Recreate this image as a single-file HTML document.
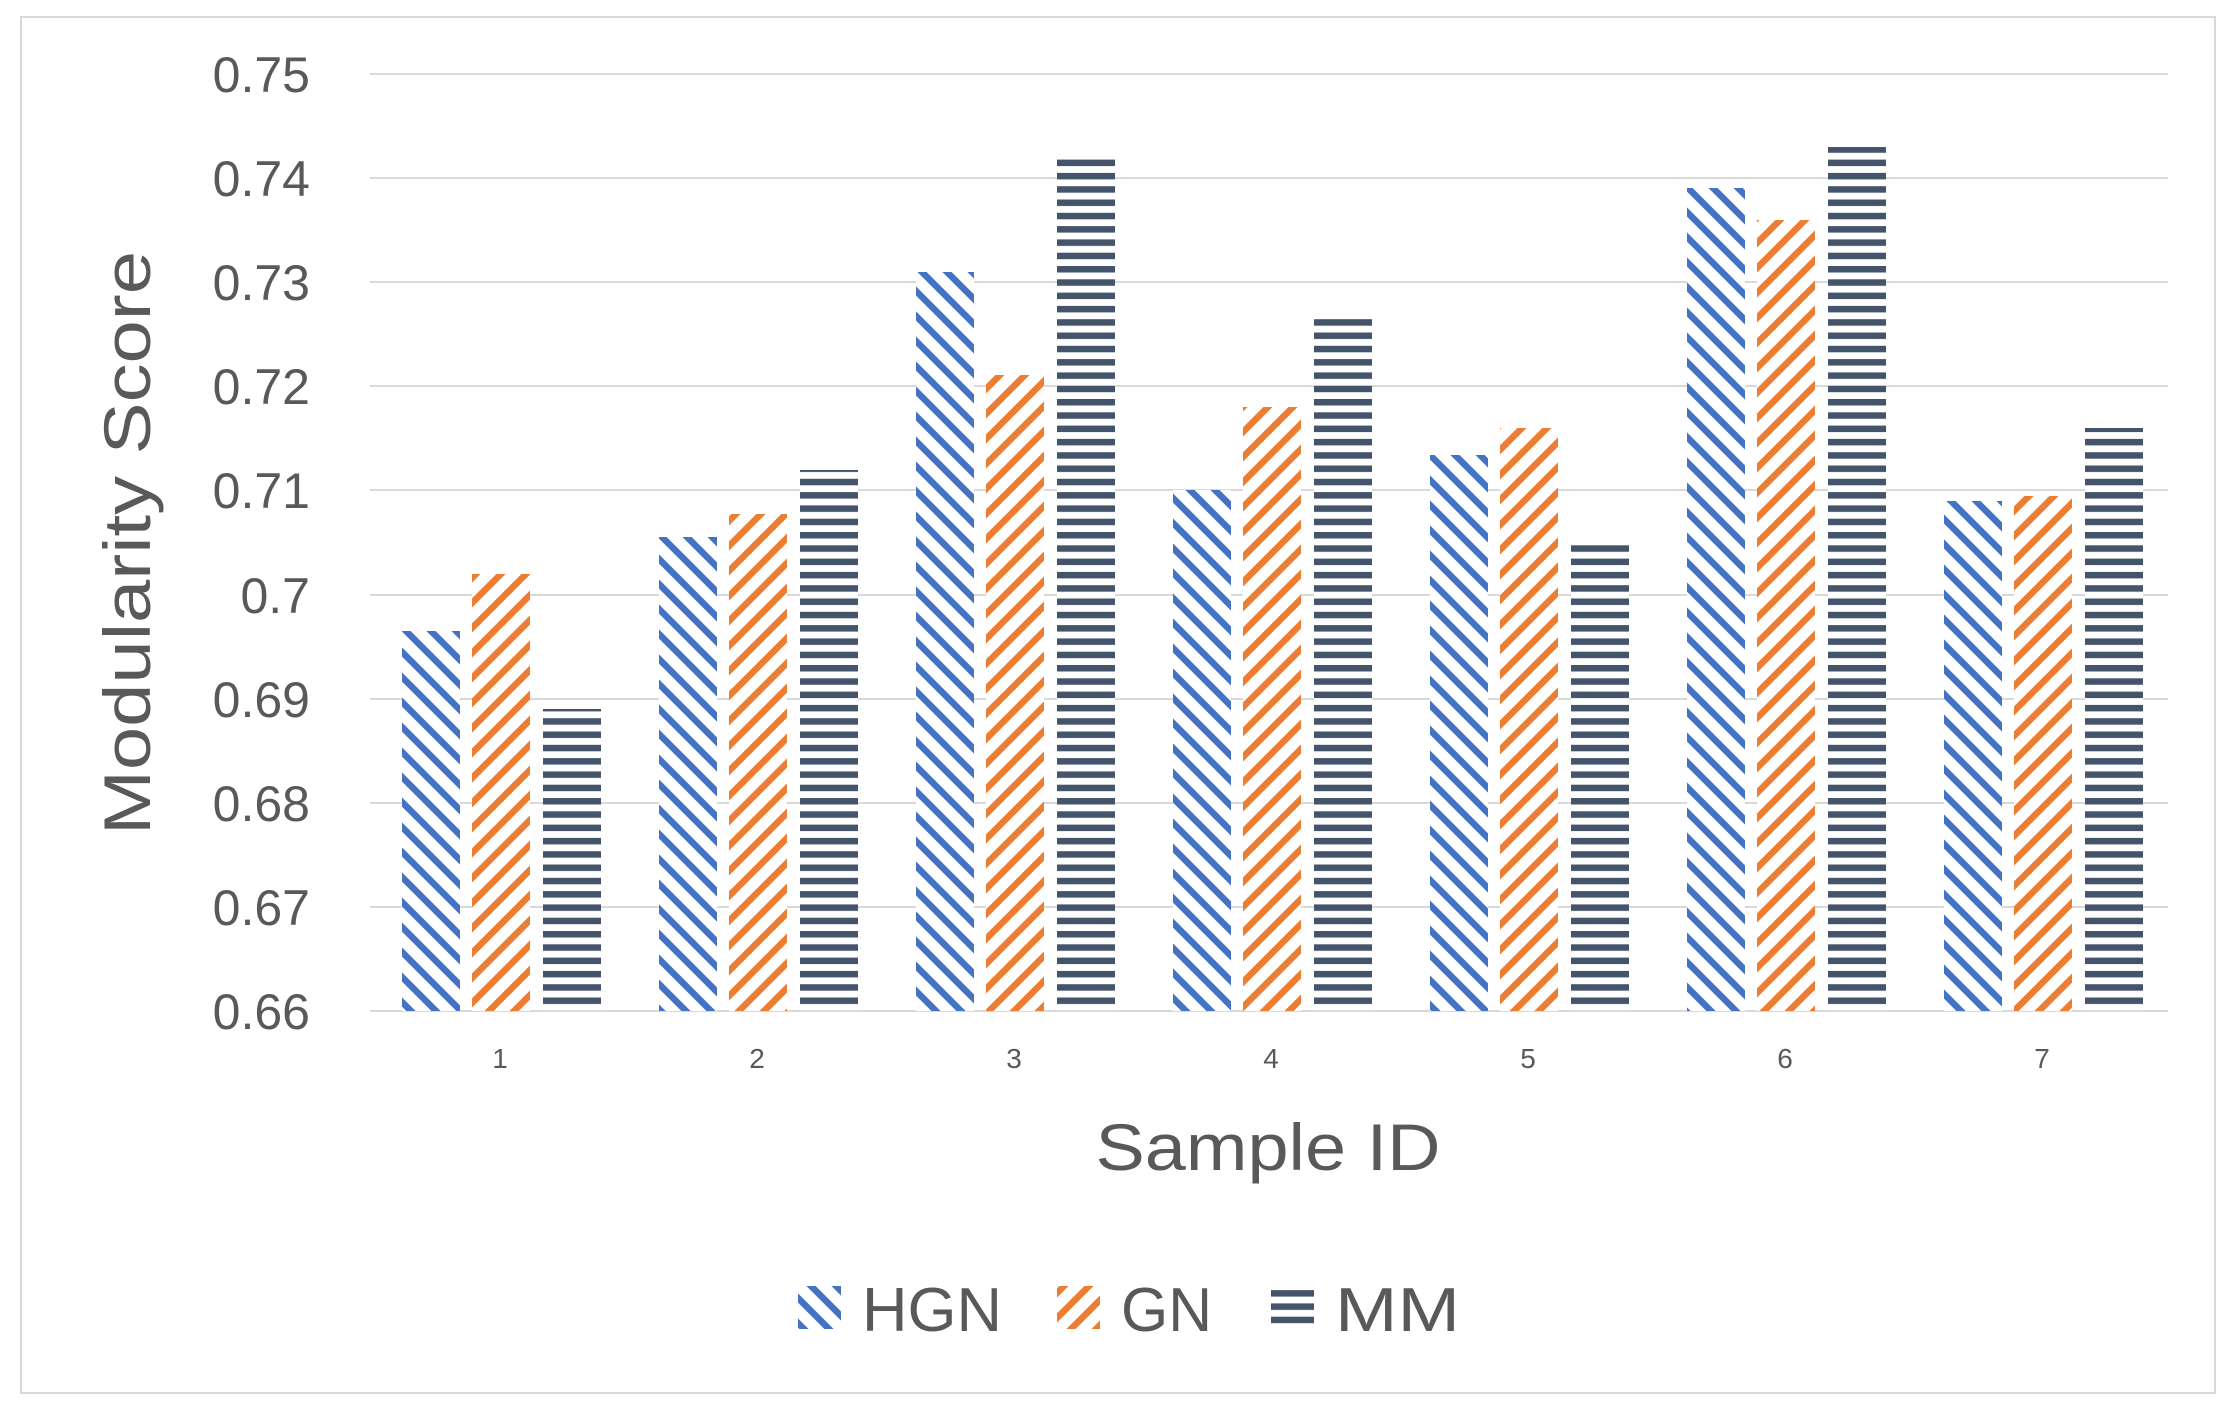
<!DOCTYPE html>
<html><head><meta charset="utf-8"><style>
html,body{margin:0;padding:0;background:#fff;}
svg{display:block;}
text{font-family:"Liberation Sans",sans-serif;fill:#595959;}
</style></head><body>
<svg width="2234" height="1410" viewBox="0 0 2234 1410" xmlns="http://www.w3.org/2000/svg">
<defs>
<pattern id="pB" patternUnits="userSpaceOnUse" width="25" height="25">
<rect width="25" height="25" fill="#fff"/>
<path d="M-5,-5 L30,30 M-5,20 L5,30 M20,-5 L30,5" stroke="#4472C4" stroke-width="6.5"/>
</pattern>
<pattern id="pO" patternUnits="userSpaceOnUse" width="25" height="25">
<rect width="25" height="25" fill="#fff"/>
<path d="M-5,30 L30,-5 M-5,5 L5,-5 M20,30 L30,20" stroke="#ED7D31" stroke-width="6.5"/>
</pattern>
<pattern id="pM" patternUnits="userSpaceOnUse" width="13.3" height="13.3">
<rect width="14" height="14" fill="#fff"/>
<rect y="0" width="14" height="6.5" fill="#44546A"/>
</pattern>
</defs>
<rect x="21" y="17" width="2194" height="1376" fill="#fff" stroke="#d9d9d9" stroke-width="2"/>
<g stroke="#d9d9d9" stroke-width="2">
<line x1="370" x2="2168" y1="74" y2="74"/>
<line x1="370" x2="2168" y1="178" y2="178"/>
<line x1="370" x2="2168" y1="282" y2="282"/>
<line x1="370" x2="2168" y1="386" y2="386"/>
<line x1="370" x2="2168" y1="490" y2="490"/>
<line x1="370" x2="2168" y1="595" y2="595"/>
<line x1="370" x2="2168" y1="699" y2="699"/>
<line x1="370" x2="2168" y1="803" y2="803"/>
<line x1="370" x2="2168" y1="907" y2="907"/>
<line x1="370" x2="2168" y1="1011" y2="1011"/>
</g>
<g font-size="50" text-anchor="end">
<text x="310" y="92">0.75</text>
<text x="310" y="196">0.74</text>
<text x="310" y="300">0.73</text>
<text x="310" y="404">0.72</text>
<text x="310" y="508">0.71</text>
<text x="310" y="613">0.7</text>
<text x="310" y="717">0.69</text>
<text x="310" y="821">0.68</text>
<text x="310" y="925">0.67</text>
<text x="310" y="1029">0.66</text>
</g>
<text transform="translate(150,543) rotate(-90)" font-size="66" text-anchor="middle" textLength="584" lengthAdjust="spacingAndGlyphs">Modularity Score</text>
<g>
<rect x="402" y="631" width="58" height="380" fill="url(#pB)"/>
<rect x="659" y="537" width="58" height="474" fill="url(#pB)"/>
<rect x="916" y="272" width="58" height="739" fill="url(#pB)"/>
<rect x="1173" y="490" width="58" height="521" fill="url(#pB)"/>
<rect x="1430" y="455" width="58" height="556" fill="url(#pB)"/>
<rect x="1687" y="188" width="58" height="823" fill="url(#pB)"/>
<rect x="1944" y="501" width="58" height="510" fill="url(#pB)"/>
<rect x="472" y="574" width="58" height="437" fill="url(#pO)"/>
<rect x="729" y="514" width="58" height="497" fill="url(#pO)"/>
<rect x="986" y="375" width="58" height="636" fill="url(#pO)"/>
<rect x="1243" y="407" width="58" height="604" fill="url(#pO)"/>
<rect x="1500" y="428" width="58" height="583" fill="url(#pO)"/>
<rect x="1757" y="220" width="58" height="791" fill="url(#pO)"/>
<rect x="2014" y="496" width="58" height="515" fill="url(#pO)"/>
<rect x="543" y="709" width="58" height="302" fill="url(#pM)"/>
<rect x="800" y="470" width="58" height="541" fill="url(#pM)"/>
<rect x="1057" y="157" width="58" height="854" fill="url(#pM)"/>
<rect x="1314" y="313" width="58" height="698" fill="url(#pM)"/>
<rect x="1571" y="542" width="58" height="469" fill="url(#pM)"/>
<rect x="1828" y="147" width="58" height="864" fill="url(#pM)"/>
<rect x="2085" y="428" width="58" height="583" fill="url(#pM)"/>
</g>
<g font-size="28" text-anchor="middle">
<text x="500" y="1068">1</text>
<text x="757" y="1068">2</text>
<text x="1014" y="1068">3</text>
<text x="1271" y="1068">4</text>
<text x="1528" y="1068">5</text>
<text x="1785" y="1068">6</text>
<text x="2042" y="1068">7</text>
</g>
<text x="1268" y="1170" font-size="66" text-anchor="middle" textLength="345" lengthAdjust="spacingAndGlyphs">Sample ID</text>
<rect x="798" y="1286" width="43" height="43" fill="url(#pB)"/>
<text x="862" y="1331" font-size="62" textLength="140" lengthAdjust="spacingAndGlyphs">HGN</text>
<rect x="1057" y="1286" width="43" height="43" fill="url(#pO)"/>
<text x="1121" y="1331" font-size="62" textLength="91" lengthAdjust="spacingAndGlyphs">GN</text>
<rect x="1271" y="1286" width="43" height="43" fill="url(#pM)"/>
<text x="1335" y="1331" font-size="62" textLength="125" lengthAdjust="spacingAndGlyphs">MM</text>
</svg>
</body></html>
